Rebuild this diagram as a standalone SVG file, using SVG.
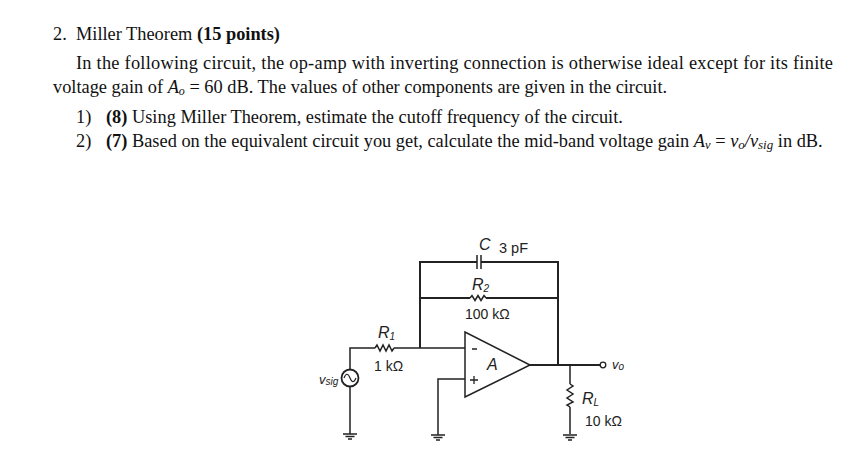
<svg xmlns="http://www.w3.org/2000/svg" width="865" height="465" viewBox="0 0 865 465">
<style>
.t{font-family:"Liberation Serif",serif;font-size:18.35px;fill:#111}
.b{font-weight:bold}
.i{font-style:italic}
.c{font-family:"Liberation Sans",sans-serif;font-size:14px;fill:#222}
.l{font-size:16px;font-style:italic}
.w{fill:none;stroke:#222;stroke-width:1.5}
.h{stroke-width:2}
</style>
<defs>
<g id="gnd" fill="none" stroke="#222" stroke-width="1.6"><path d="M-7 0H7M-4.500 2.500H4.500M-2 5H2"/></g>
</defs>
<rect width="865" height="465" fill="#fff"/>
<g id="text">
<text class="t" x="53" y="40">2.</text>
<text class="t" x="76" y="40">Miller Theorem <tspan class="b">(15 points)</tspan></text>
<text class="t" x="76" y="69" textLength="757" lengthAdjust="spacing">In the following circuit, the op-amp with inverting connection is otherwise ideal except for its finite</text>
<text class="t" x="53" y="93">voltage gain of <tspan class="i">A<tspan font-size="12" dy="2">o</tspan></tspan><tspan dy="-2"> = 60 dB. The values of other components are given in the circuit.</tspan></text>
<text class="t" x="76" y="123">1)</text>
<text class="t" x="106" y="123"><tspan class="b">(8)</tspan> Using Miller Theorem, estimate the cutoff frequency of the circuit.</text>
<text class="t" x="76" y="147">2)</text>
<text class="t" x="106" y="147"><tspan class="b">(7)</tspan> Based on the equivalent circuit you get, calculate the mid-band voltage gain <tspan class="i">A<tspan font-size="12.500" dy="2">v</tspan></tspan><tspan dy="-2"> = </tspan><tspan class="i">v<tspan font-size="13" dy="2">o</tspan><tspan dy="-2">/v</tspan><tspan font-size="13" dy="2">sig</tspan></tspan><tspan dy="-2"> in dB.</tspan></text>
</g>
<g id="connectors">
<path class="w" d="M350 434V348H375M394 348H465"/>
<path class="w h" d="M420 348V262H477M481 262H558V365M420 298H470M486 298H558"/>
<path class="w" d="M438 435V379H465"/>
<path class="w h" d="M530 365H600"/>
<path class="w" d="M570 365V384M570 407V434"/>
</g>
<g id="C">
<path class="w" d="M477 255V269M481 255V269"/>
<text class="c l" x="479" y="250">C</text>
<text class="c" x="499" y="253" style="font-size:14.5px">3 pF</text>
</g>
<g id="R2">
<path class="w" d="M470 298l2-2.500 3 5 3-5 3 5 3-5 2 2.500"/>
<text class="c l" x="472" y="290">R<tspan font-size="10" dy="2">2</tspan></text>
<text class="c" x="465" y="319">100 kΩ</text>
</g>
<g id="R1">
<path class="w" d="M375 348l2-3 3 6 3-6 3 6 3-6 3 6 2-3"/>
<text class="c l" x="378" y="338">R<tspan font-size="10" dy="2">1</tspan></text>
<text class="c" x="374" y="371">1 kΩ</text>
</g>
<g id="Vsig">
<circle cx="350" cy="378" r="8.500" fill="#fff" stroke="#222" stroke-width="1.800"/>
<path d="M344 378c2-5 4-5 6 0s4 5 6 0" fill="none" stroke="#222" stroke-width="1.200"/>
<text class="c" x="319" y="384" style="font-size:13px;font-style:italic">v<tspan font-size="10" dy="1">sig</tspan></text>
<use href="#gnd" x="350" y="434"/>
</g>
<g id="Gnd2"><use href="#gnd" x="438" y="435"/></g>
<g id="Amp">
<path d="M465 332V397L530 365Z" fill="#fff" stroke="#222" stroke-width="1.500"/>
<path d="M472 349H477M470 380H478M474 376V384" stroke="#222" stroke-width="1.300"/>
<text class="c l" x="487" y="370">A</text>
</g>
<g id="RL">
<path class="w" d="M570 384l3 2-6 4 6 4-6 4 6 4-6 3 3 2"/>
<text class="c l" x="582" y="404">R<tspan font-size="10" dy="2">L</tspan></text>
<text class="c" x="585" y="426">10 kΩ</text>
<use href="#gnd" x="570" y="435"/>
</g>
<g id="Vo">
<circle cx="603" cy="365" r="2.800" fill="#fff" stroke="#222" stroke-width="1.300"/>
<text class="c" x="612" y="369" style="font-size:13px;font-style:italic">v<tspan font-size="10" dy="1">o</tspan></text>
</g>
</svg>
